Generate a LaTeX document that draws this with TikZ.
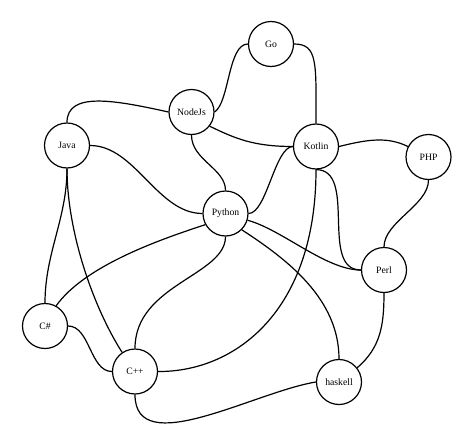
\documentclass[tikz,border=0pt]{standalone}
\usepackage{fontspec}
\setmainfont{Liberation Serif}
\begin{document}
\begin{tikzpicture}[x=1pt,y=-1pt,
  lang/.style={circle,draw=black,line width=1.2pt,fill=white,minimum size=45pt,inner sep=0pt,font=\fontsize{9.7}{11}\selectfont},
  link/.style={draw=black,line width=1.2pt}]
\useasboundingbox (0,0) rectangle (474,447);
\node[lang] (go) at (271,44) {Go};
\node[lang] (nodejs) at (191.5,112) {NodeJs};
\node[lang] (java) at (67,145.5) {Java};
\node[lang] (kotlin) at (316,146.5) {Kotlin};
\node[lang] (php) at (428.5,157) {PHP};
\node[lang] (python) at (225.5,213.5) {Python};
\node[lang] (perl) at (384,270) {Perl};
\node[lang] (csharp) at (45,326) {C\#};
\node[lang] (cpp) at (135,371.5) {C++};
\node[lang] (haskell) at (339,382) {haskell};
% edges
\draw[link] (nodejs.east) .. controls +(15,-10) and +(-20,0) .. (go.west);
\draw[link] (go.east) .. controls +(24,0) and +(0,-60) .. (kotlin.north);
\draw[link] (java.north) .. controls +(0,-31) and +(-54,-12) .. (nodejs.west);
\draw[link] (nodejs.-38) .. controls +(25,12) and +(-40,0) .. (kotlin.west);
\draw[link] (nodejs.south) .. controls +(0,25) and +(0,-22) .. (python.north);
\draw[link] (java.east) .. controls +(45,0) and +(-45,0) .. (python.west);
\draw[link] (python.east) .. controls +(18,0) and +(-18,0) .. (kotlin.west);
\draw[link] (kotlin.east) .. controls +(30,-7.5) and +(-20,-9.8) .. (php.153);
\draw[link] (php.south) .. controls +(0,25) and +(0,-25) .. (perl.north);
\draw[link] (kotlin.south) .. controls +(42,0) and +(-42,0) .. (perl.west);
\draw[link] (java.south) .. controls +(0,50) and +(0,-50) .. (csharp.north);
\draw[link] (java.south) .. controls +(0,62) and +(-29.7,-46.7) .. (cpp.124);
\draw[link] (csharp.61) .. controls +(29,-41) and +(-41,13.4) .. (python.209.5);
\draw[link] (csharp.east) .. controls +(22,0) and +(-22,0) .. (cpp.west);
\draw[link] (python.south) .. controls +(0,39) and +(0,-64) .. (cpp.north);
\draw[link] (kotlin.south) .. controls +(0,141) and +(77.5,0.5) .. (cpp.east);
\draw[link] (python.-17) .. controls +(34.6,9.4) and +(-35,0) .. (perl.west);
\draw[link] (python.-45.6) .. controls +(46.7,30.3) and +(0,-59.5) .. (haskell.north);
\draw[link] (perl.south) .. controls +(0,32.5) and +(23.3,-20.2) .. (haskell.38);
\draw[link] (cpp.south) .. controls +(0,66) and +(-61.5,10) .. (haskell.west);
\end{tikzpicture}
\end{document}
